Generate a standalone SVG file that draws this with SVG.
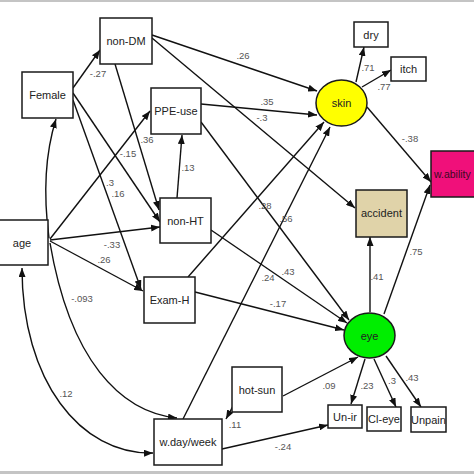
<svg xmlns="http://www.w3.org/2000/svg" width="474" height="474" viewBox="0 0 474 474">
<defs>
<style>
.box{fill:#fff;stroke:#1a1a1a;stroke-width:1.5}
.nt{font-family:"Liberation Sans",Arial,sans-serif;font-size:11px;fill:#222;text-anchor:middle}
.lb{font-family:"Liberation Sans",Arial,sans-serif;font-size:9.5px;fill:#555;text-anchor:middle}
.c path{fill:none;stroke:#111;stroke-width:1.4;marker-end:url(#ah)}
</style>
<marker id="ah" markerUnits="userSpaceOnUse" markerWidth="9" markerHeight="7" refX="9" refY="3.5" orient="auto-start-reverse">
<path d="M0,0 L9,3.5 L0,7 Z" fill="#111"/>
</marker>
</defs>
<rect x="0" y="0" width="474" height="474" fill="#fff"/>
<rect x="0" y="0" width="474" height="2" fill="#c4c4c4"/>
<rect x="0" y="471" width="474" height="3" fill="#c4c4c4"/>

<g id="connectors" class="c">
<path d="M73,88 L100,50"/>
<path d="M73,93 L160,222"/>
<path d="M73,100 L141,289"/>
<path d="M115,64 L159,210"/>
<path d="M152,35 L317,91"/>
<path d="M152,38 L355,208"/>
<path d="M201,104 L317,115"/>
<path d="M201,122 L349,320"/>
<path d="M50,239 L150,111"/>
<path d="M50,240 L160,227"/>
<path d="M50,241 L143,291"/>
<path d="M49,238 Q40,170 56,119"/>
<path d="M50,243 C70,360 120,412 177,418"/>
<path d="M22,268 C22,380 80,455 153,453" marker-start="url(#ah)"/>
<path d="M177,198 L182,135"/>
<path d="M211,230 L347,323"/>
<path d="M195,292 L344,330"/>
<path d="M188,277 L324,122"/>
<path d="M183,419 L330,127"/>
<path d="M233,406 L226,419"/>
<path d="M283,396 L358,357"/>
<path d="M222,449 L328,425"/>
<path d="M356,82 L364,47"/>
<path d="M362,87 L391,70"/>
<path d="M367,107 L431,182"/>
<path d="M370,312 L370,237"/>
<path d="M384,314 L430,185"/>
<path d="M365,359 L351,404"/>
<path d="M374,359 L396,407"/>
<path d="M386,356 L421,407"/>
</g>

<g id="labels">
<text class="lb" x="98" y="77">-.27</text>
<text class="lb" x="147" y="143">.36</text>
<text class="lb" x="128" y="157">-.15</text>
<text class="lb" x="110" y="186">.3</text>
<text class="lb" x="118" y="197">.16</text>
<text class="lb" x="188" y="171">.13</text>
<text class="lb" x="243" y="59">.26</text>
<text class="lb" x="267" y="105">.35</text>
<text class="lb" x="262" y="121">-.3</text>
<text class="lb" x="368" y="71">.71</text>
<text class="lb" x="384" y="90">.77</text>
<text class="lb" x="410" y="142">-.38</text>
<text class="lb" x="265" y="209">.28</text>
<text class="lb" x="286" y="222">.56</text>
<text class="lb" x="268" y="281">.24</text>
<text class="lb" x="288" y="275">.43</text>
<text class="lb" x="278" y="307">-.17</text>
<text class="lb" x="112" y="248">-.33</text>
<text class="lb" x="104" y="263">.26</text>
<text class="lb" x="82" y="302">-.093</text>
<text class="lb" x="66" y="397">.12</text>
<text class="lb" x="235" y="428">.11</text>
<text class="lb" x="283" y="450">-.24</text>
<text class="lb" x="329" y="389">.09</text>
<text class="lb" x="377" y="280">.41</text>
<text class="lb" x="416" y="255">.75</text>
<text class="lb" x="367" y="389">.23</text>
<text class="lb" x="392" y="384">.3</text>
<text class="lb" x="412" y="381">.43</text>
</g>

<g id="nonDM"><rect class="box" x="100" y="18" width="52" height="46"/><text class="nt" x="126" y="45">non-DM</text></g>
<g id="female"><rect class="box" x="22" y="72" width="51" height="46"/><text class="nt" x="47.5" y="99">Female</text></g>
<g id="ppe"><rect class="box" x="151" y="88" width="50" height="46"/><text class="nt" x="176" y="115">PPE-use</text></g>
<g id="nonHT"><rect class="box" x="160" y="198" width="51" height="45"/><text class="nt" x="185.5" y="225">non-HT</text></g>
<g id="age"><rect class="box" x="-1" y="220" width="49" height="45"/><text class="nt" x="22" y="247">age</text></g>
<g id="examH"><rect class="box" x="144" y="277" width="51" height="46"/><text class="nt" x="169.5" y="304">Exam-H</text></g>
<g id="wday"><rect class="box" x="154" y="419" width="68" height="46"/><text class="nt" x="188" y="446">w.day/week</text></g>
<g id="hotsun"><rect class="box" x="232" y="367" width="50" height="45"/><text class="nt" x="257" y="394">hot-sun</text></g>
<g id="unir"><rect class="box" x="328" y="405" width="34" height="23"/><text class="nt" x="345" y="420.5">Un-ir</text></g>
<g id="cleye"><rect class="box" x="367" y="407" width="34" height="24"/><text class="nt" x="384" y="423">Cl-eye</text></g>
<g id="unpain"><rect class="box" x="411" y="407" width="35" height="25"/><text class="nt" x="428.5" y="423.5">Unpain</text></g>
<g id="dry"><rect class="box" x="354" y="22" width="34" height="25"/><text class="nt" x="371" y="38.5">dry</text></g>
<g id="itch"><rect class="box" x="391" y="57" width="35" height="24"/><text class="nt" x="408.5" y="73">itch</text></g>
<g id="accident"><rect class="box" x="356" y="190" width="51" height="47" style="fill:#e0d3a9"/><text class="nt" x="381.5" y="217">accident</text></g>
<g id="wability"><rect class="box" x="431" y="151" width="50" height="46" style="fill:#f0107a"/><text class="nt" x="434" y="178" style="text-anchor:start;fill:#3a0a22;font-size:10.5px">w.ability</text></g>
<g id="skin"><ellipse cx="341.5" cy="103" rx="25.5" ry="23" fill="#ffff00" stroke="#1a1a1a" stroke-width="1.5"/><text class="nt" x="341.5" y="107">skin</text></g>
<g id="eye"><ellipse cx="369.5" cy="335.5" rx="25.5" ry="22.5" fill="#00ee00" stroke="#1a1a1a" stroke-width="1.5"/><text class="nt" x="369.5" y="339.5">eye</text></g>
</svg>
